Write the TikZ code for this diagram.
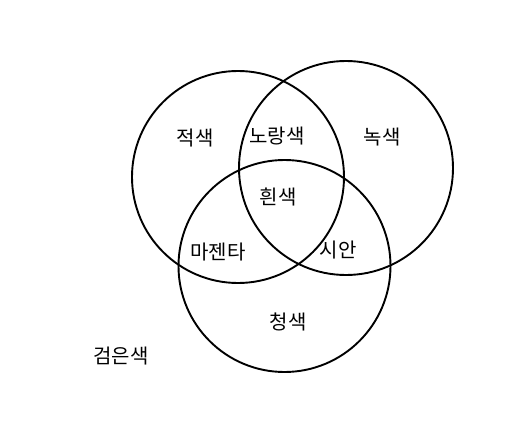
\documentclass[tikz,border=0pt]{standalone}
\usepackage{fontspec}
\newfontfamily\kofont{Noto Sans CJK KR}

\begin{document}
\begin{tikzpicture}[x=1pt, y=-1pt, ring/.style={line width=1.9pt},
    lbl/.style={font=\kofont\fontsize{20}{22}\selectfont, inner sep=0pt}]
    % Frame with the reference's margins
    \useasboundingbox (0,0) rectangle (522,434);

    % Three colour circles
    \draw[ring] (238,177) circle (106);
    \draw[ring] (346,168) circle (107);
    \draw[ring] (284.5,266) circle (106);

    % Region labels
    \node[lbl] (red) at (195,138) {적색};
    \node[lbl] (yellow) at (277,136) {노랑색};
    \node[lbl] (green) at (382,137) {녹색};
    \node[lbl] (white) at (278,197) {흰색};
    \node[lbl] (magenta) at (218,252) {마젠타};
    \node[lbl] (cyan) at (338,250) {시안};
    \node[lbl] (blue) at (288,322) {청색};
    \node[lbl] (black) at (121,356) {검은색};
\end{tikzpicture}
\end{document}
